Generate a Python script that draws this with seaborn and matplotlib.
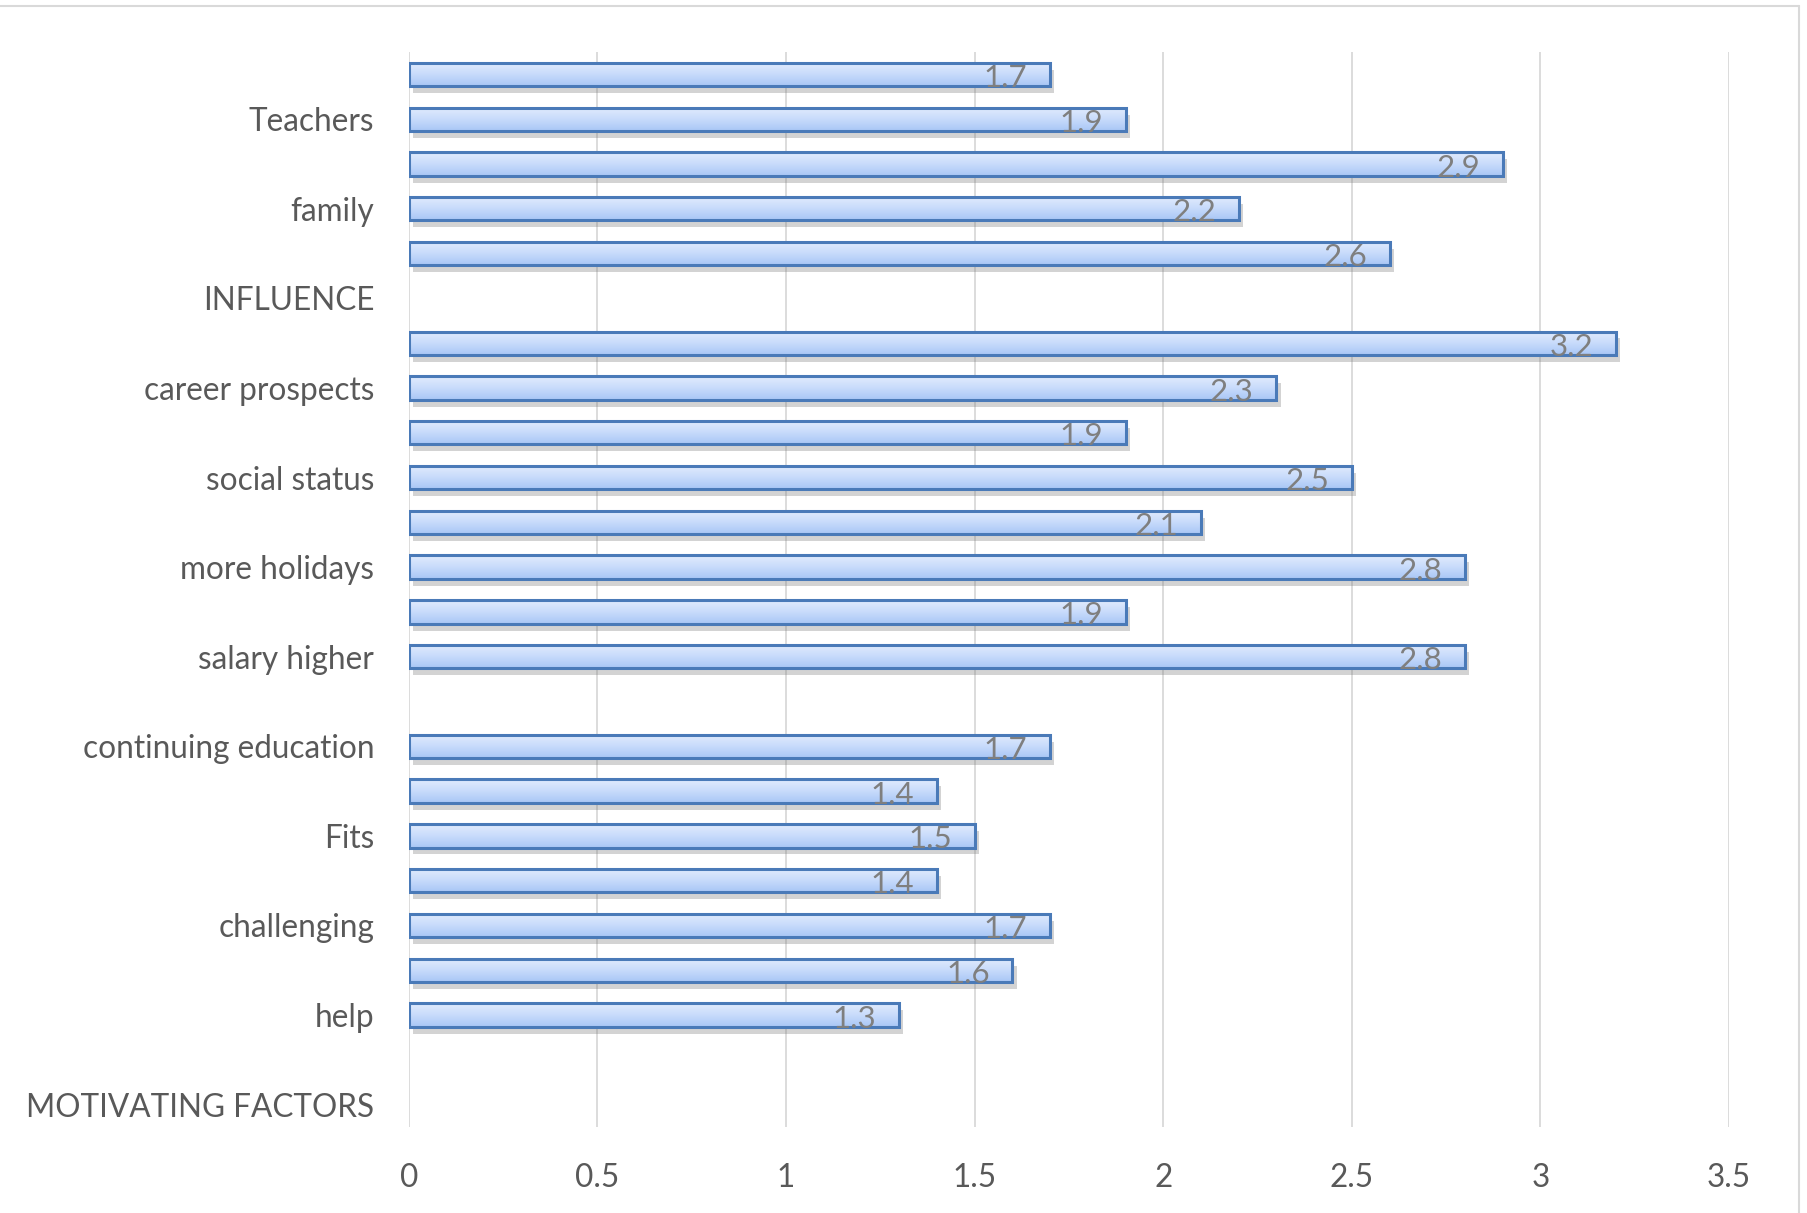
import numpy as np
import pandas as pd
import seaborn as sns
import matplotlib.pyplot as plt
import matplotlib.patheffects as pe
from matplotlib.colors import LinearSegmentedColormap
from matplotlib.patches import Rectangle

# Categories from top to bottom (unlabelled rows are skipped by the axis, as in the original)
factors = ["", "Teachers", "", "family", "", "INFLUENCE",
           "", "career prospects", "", "social status", "", "more holidays",
           "", "salary higher", "", "continuing education", "", "Fits",
           "", "challenging", "", "help", "", "MOTIVATING FACTORS"]
scores = [1.7, 1.9, 2.9, 2.2, 2.6, np.nan,
          3.2, 2.3, 1.9, 2.5, 2.1, 2.8,
          1.9, 2.8, np.nan, 1.7, 1.4, 1.5,
          1.4, 1.7, 1.6, 1.3, np.nan, np.nan]
x_ticks = [0, 0.5, 1, 1.5, 2, 2.5, 3, 3.5]

df = pd.DataFrame({"factor": factors, "score": scores})
df["slot"] = range(len(df))

sns.set_style("white")
plt.rcParams["font.family"] = ["Lato", "DejaVu Sans"]

fig = plt.figure(figsize=(18.07, 12.13), dpi=100)
ax = fig.add_axes([0.2263, 0.0709, 0.7305, 0.8862])

sns.barplot(data=df.dropna(), x="score", y="slot", order=list(df["slot"]),
            orient="h", width=0.52, color="#c9dcfb", ax=ax)

edge = "#4a7ab8"
grad = LinearSegmentedColormap.from_list("bar", ["#e2ecfd", "#c8dbfb", "#a9c7f6"])
g = np.linspace(0, 1, 64).reshape(-1, 1)

for bar in list(ax.patches):
    w = bar.get_width()
    if not np.isfinite(w) or w <= 0:
        continue
    x0, y0, h = bar.get_x(), bar.get_y(), bar.get_height()
    # soft drop shadow
    sh = Rectangle((x0, y0), w, h, facecolor="white", edgecolor="none", zorder=1.5,
                   path_effects=[pe.SimplePatchShadow(offset=(3, -5), shadow_rgbFace="#6f6f6f", alpha=0.3)])
    ax.add_patch(sh)
    # gradient fill
    im = ax.imshow(g, cmap=grad, aspect="auto", extent=(x0, x0 + w, y0 + h, y0),
                   origin="upper", zorder=2, interpolation="bicubic")
    im.set_clip_path(bar)
    bar.set_facecolor("none")
    bar.set_edgecolor(edge)
    bar.set_linewidth(2.2)
    bar.set_zorder(3)
    ax.text(x0 + w - 0.06, y0 + h / 2 + 0.08, f"{w:.1f}", ha="right", va="center",
            fontsize=22.5, color="#7f7f7f", zorder=4)

ax.set_xlim(0, 3.5)
ax.set_ylim(len(df) - 0.5, -0.5)
ax.set_xticks(x_ticks)
ax.set_xticklabels([f"{t:g}" for t in x_ticks])
ax.set_yticks(df["slot"])
ax.set_yticklabels(df["factor"])
ax.tick_params(axis="both", length=0, labelsize=22.7, labelcolor="#595959")
ax.tick_params(axis="y", pad=25)
ax.tick_params(axis="x", pad=26)
ax.xaxis.grid(True, color="#d9d9d9", linewidth=1.3)
ax.yaxis.grid(False)
ax.set_axisbelow(True)
ax.set_xlabel("")
ax.set_ylabel("")
sns.despine(ax=ax, left=True, bottom=True)

# chart frame (only top and right edges show in the original crop)
fig.add_artist(plt.Line2D([0, 0.9955], [0.995, 0.995], color="#d9d9d9", lw=1.5, transform=fig.transFigure))
fig.add_artist(plt.Line2D([0.9955, 0.9955], [0, 0.995], color="#d9d9d9", lw=1.5, transform=fig.transFigure))

fig.savefig("out.png", dpi=100)
